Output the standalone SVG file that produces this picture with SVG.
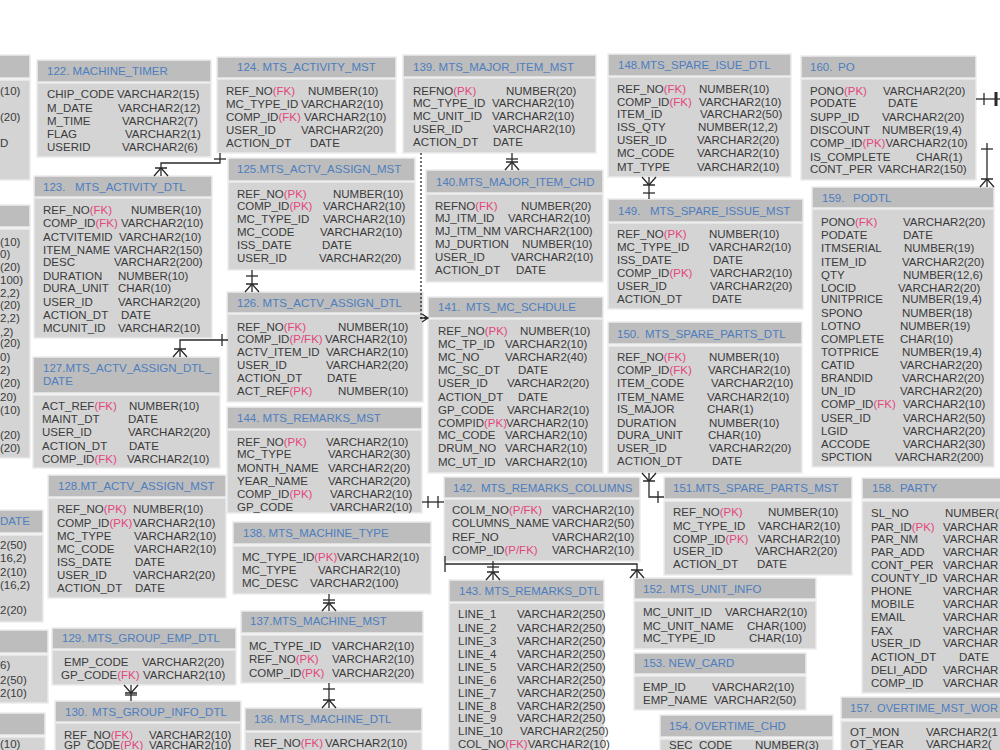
<svg xmlns="http://www.w3.org/2000/svg" width="1000" height="750" viewBox="0 0 1000 750">
<style>
text{font-family:"Liberation Sans",Arial,sans-serif;font-size:11.5px;fill:#3b3b3b}
.ti{fill:#4d7ebf}
.k{fill:#e3467d}
.hd{fill:#bdbdbd;stroke:#ebebeb;stroke-width:1.5}
.bd{fill:#d4d4d4;stroke:#ebebeb;stroke-width:1.5}
.cn{fill:none;stroke:#2a2a2a;stroke-width:1.3}
.dt{fill:none;stroke:#2a2a2a;stroke-width:1.3;stroke-dasharray:2 2}
</style>
<defs>
<marker id="one" viewBox="-12 -8 14 16" refX="0" refY="0" markerWidth="14" markerHeight="16" markerUnits="userSpaceOnUse" orient="auto-start-reverse" overflow="visible">
<path d="M-6,-6V6" stroke="#2a2a2a" stroke-width="1.3" fill="none"/>
</marker>
<marker id="many" viewBox="-12 -8 14 16" refX="0" refY="0" markerWidth="14" markerHeight="16" markerUnits="userSpaceOnUse" orient="auto-start-reverse" overflow="visible">
<path d="M-8,0L0,-7M-8,0L0,7M-8,-6V6" stroke="#2a2a2a" stroke-width="1.3" fill="none"/>
</marker>
</defs>
<rect width="1000" height="750" fill="#ffffff"/>

<g id="partialA">
<rect class="hd" x="-5" y="55" width="35" height="23"/>
<rect class="bd" x="-5" y="80" width="35" height="100"/>
<text x="0" y="95">(10)</text>
<text x="0" y="121">(20)</text>
<text x="0" y="147">D</text>
</g>
<g id="partialB">
<rect class="hd" x="-5" y="205" width="35" height="22"/>
<rect class="bd" x="-5" y="229" width="35" height="229"/>
<text x="0" y="246">(10)</text>
<text x="0" y="258">0)</text>
<text x="0" y="271">(20)</text>
<text x="0" y="284">100)</text>
<text x="0" y="297">2,2)</text>
<text x="0" y="309">(20)</text>
<text x="0" y="322">2,2)</text>
<text x="0" y="336">,2)</text>
<text x="0" y="347">(20)</text>
<text x="0" y="361">0)</text>
<text x="0" y="374">2)</text>
<text x="0" y="387">(20)</text>
<text x="0" y="401">20)</text>
<text x="0" y="414">(10)</text>
<text x="0" y="439">(20)</text>
<text x="0" y="452">(20)</text>
</g>
<g id="partialC">
<rect class="hd" x="-5" y="510" width="48" height="23"/>
<text class="ti" x="0" y="525">DATE</text>
<rect class="bd" x="-5" y="535" width="48" height="87"/>
<text x="0" y="549">2(50)</text>
<text x="0" y="562">16,2)</text>
<text x="0" y="576">2(10)</text>
<text x="0" y="589">(16,2)</text>
<text x="0" y="614">2(20)</text>
</g>
<g id="partialD">
<rect class="hd" x="-5" y="630" width="53" height="23"/>
<rect class="bd" x="-5" y="655" width="53" height="48"/>
<text x="0" y="669">6)</text>
<text x="0" y="684">2(50)</text>
<text x="0" y="697">2(10)</text>
</g>
<g id="partialE">
<rect class="hd" x="-5" y="713" width="50" height="22"/>
<rect class="bd" x="-5" y="737" width="50" height="20"/>
<text x="0" y="748">(10)</text>
</g>

<g id="t122">
<rect class="hd" x="37" y="60" width="174" height="22"/>
<text class="ti" x="47" y="75">122. MACHINE_TIMER</text>
<rect class="bd" x="37" y="83" width="174" height="74"/>
<text x="47" y="98">CHIP_CODE</text><text x="117" y="98">VARCHAR2(15)</text>
<text x="47" y="112">M_DATE</text><text x="118" y="112">VARCHAR2(12)</text>
<text x="47" y="125">M_TIME</text><text x="122" y="125">VARCHAR2(7)</text>
<text x="47" y="138">FLAG</text><text x="125" y="138">VARCHAR2(1)</text>
<text x="47" y="151">USERID</text><text x="122" y="151">VARCHAR2(6)</text>
</g>

<g id="t124">
<rect class="hd" x="217" y="57" width="179" height="21"/>
<text class="ti" x="237" y="71">124. MTS_ACTIVITY_MST</text>
<rect class="bd" x="217" y="79" width="179" height="74"/>
<text x="226" y="95">REF_NO<tspan class="k">(FK)</tspan></text><text x="308" y="95">NUMBER(10)</text>
<text x="226" y="108">MC_TYPE_ID</text><text x="301" y="108">VARCHAR2(10)</text>
<text x="226" y="121">COMP_ID<tspan class="k">(FK)</tspan></text><text x="304" y="121">VARCHAR2(10)</text>
<text x="226" y="134">USER_ID</text><text x="301" y="134">VARCHAR2(20)</text>
<text x="226" y="147">ACTION_DT</text><text x="310" y="147">DATE</text>
</g>

<g id="t125">
<rect class="hd" x="228" y="158" width="187" height="23"/>
<text class="ti" x="237" y="173">125.MTS_ACTV_ASSIGN_MST</text>
<rect class="bd" x="228" y="182" width="187" height="88"/>
<text x="237" y="198">REF_NO<tspan class="k">(PK)</tspan></text><text x="333" y="198">NUMBER(10)</text>
<text x="237" y="210">COMP_ID<tspan class="k">(PK)</tspan></text><text x="323" y="210">VARCHAR2(10)</text>
<text x="237" y="223">MC_TYPE_ID</text><text x="323" y="223">VARCHAR2(10)</text>
<text x="237" y="236">MC_CODE</text><text x="320" y="236">VARCHAR2(10)</text>
<text x="237" y="249">ISS_DATE</text><text x="322" y="249">DATE</text>
<text x="237" y="262">USER_ID</text><text x="319" y="262">VARCHAR2(20)</text>
</g>

<g id="t123">
<rect class="hd" x="34" y="176" width="178" height="21"/>
<text class="ti" x="43" y="191">123.<tspan x="75">MTS_ACTIVITY_DTL</tspan></text>
<rect class="bd" x="34" y="198" width="178" height="140"/>
<text x="43" y="214">REF_NO<tspan class="k">(FK)</tspan></text><text x="131" y="214">NUMBER(10)</text>
<text x="43" y="227">COMP_ID<tspan class="k">(FK)</tspan></text><text x="121" y="227">VARCHAR2(10)</text>
<text x="43" y="241">ACTVITEMID</text><text x="119" y="241">VARCHAR2(10)</text>
<text x="43" y="254">ITEM_NAME</text><text x="114" y="254">VARCHAR2(150)</text>
<text x="43" y="266">DESC</text><text x="114" y="266">VARCHAR2(200)</text>
<text x="43" y="280">DURATION</text><text x="118" y="280">NUMBER(10)</text>
<text x="43" y="292">DURA_UNIT</text><text x="118" y="292">CHAR(10)</text>
<text x="43" y="306">USER_ID</text><text x="118" y="306">VARCHAR2(20)</text>
<text x="43" y="319">ACTION_DT</text><text x="121" y="319">DATE</text>
<text x="43" y="332">MCUNIT_ID</text><text x="118" y="332">VARCHAR2(10)</text>
</g>

<g id="t127">
<rect class="hd" x="33" y="357" width="187" height="36"/>
<text class="ti" x="43" y="372">127.MTS_ACTV_ASSIGN_DTL_</text>
<text class="ti" x="43" y="385">DATE</text>
<rect class="bd" x="33" y="395" width="187" height="73"/>
<text x="42" y="410">ACT_REF<tspan class="k">(FK)</tspan></text><text x="129" y="410">NUMBER(10)</text>
<text x="42" y="423">MAINT_DT</text><text x="128" y="423">DATE</text>
<text x="42" y="436">USER_ID</text><text x="128" y="436">VARCHAR2(20)</text>
<text x="42" y="450">ACTION_DT</text><text x="129" y="450">DATE</text>
<text x="42" y="463">COMP_ID<tspan class="k">(FK)</tspan></text><text x="127" y="463">VARCHAR2(10)</text>
</g>

<g id="t128">
<rect class="hd" x="48" y="475" width="178" height="22"/>
<text class="ti" x="58" y="490">128.MT_ACTV_ASSIGN_MST</text>
<rect class="bd" x="48" y="498" width="178" height="100"/>
<text x="57" y="513">REF_NO<tspan class="k">(PK)</tspan></text><text x="133" y="513">NUMBER(10)</text>
<text x="57" y="527">COMP_ID<tspan class="k">(PK)</tspan></text><text x="133" y="527">VARCHAR2(10)</text>
<text x="57" y="540">MC_TYPE</text><text x="134" y="540">VARCHAR2(10)</text>
<text x="57" y="553">MC_CODE</text><text x="134" y="553">VARCHAR2(10)</text>
<text x="57" y="566">ISS_DATE</text><text x="135" y="566">DATE</text>
<text x="57" y="579">USER_ID</text><text x="133" y="579">VARCHAR2(20)</text>
<text x="57" y="592">ACTION_DT</text><text x="135" y="592">DATE</text>
</g>

<g id="t129">
<rect class="hd" x="52" y="628" width="184" height="21"/>
<text class="ti" x="62" y="642">129. MTS_GROUP_EMP_DTL</text>
<rect class="bd" x="52" y="650" width="184" height="35"/>
<text x="64" y="666">EMP_CODE</text><text x="142" y="666">VARCHAR2(20)</text>
<text x="61" y="679">GP_CODE<tspan class="k">(FK)</tspan></text><text x="143" y="679">VARCHAR2(10)</text>
</g>

<g id="t130">
<rect class="hd" x="55" y="701" width="186" height="21"/>
<text class="ti" x="65" y="716">130.<tspan x="92">MTS_GROUP_INFO_DTL</tspan></text>
<rect class="bd" x="55" y="723" width="186" height="40"/>
<text x="64" y="739">REF_NO<tspan class="k">(FK)</tspan></text><text x="149" y="739">VARCHAR2(10)</text>
<text x="64" y="749">GP_CODE<tspan class="k">(PK)</tspan></text><text x="149" y="749">VARCHAR2(10)</text>
</g>

<g id="t126">
<rect class="hd" x="227" y="292" width="196" height="21"/>
<text class="ti" x="237" y="307">126. MTS_ACTV_ASSIGN_DTL</text>
<rect class="bd" x="227" y="314" width="196" height="88"/>
<text x="237" y="331">REF_NO<tspan class="k">(FK)</tspan></text><text x="338" y="331">NUMBER(10)</text>
<text x="237" y="343">COMP_ID<tspan class="k">(P/FK)</tspan></text><text x="325" y="343">VARCHAR2(10)</text>
<text x="237" y="356">ACTV_ITEM_ID</text><text x="326" y="356">VARCHAR2(10)</text>
<text x="237" y="369">USER_ID</text><text x="326" y="369">VARCHAR2(20)</text>
<text x="237" y="382">ACTION_DT</text><text x="327" y="382">DATE</text>
<text x="237" y="395">ACT_REF<tspan class="k">(PK)</tspan></text><text x="338" y="395">NUMBER(10)</text>
</g>

<g id="t144">
<rect class="hd" x="227" y="407" width="195" height="22"/>
<text class="ti" x="237" y="422">144. MTS_REMARKS_MST</text>
<rect class="bd" x="227" y="430" width="195" height="83"/>
<text x="237" y="446">REF_NO<tspan class="k">(PK)</tspan></text><text x="326" y="446">VARCHAR2(10)</text>
<text x="237" y="458">MC_TYPE</text><text x="328" y="458">VARCHAR2(30)</text>
<text x="237" y="472">MONTH_NAME</text><text x="328" y="472">VARCHAR2(20)</text>
<text x="237" y="485">YEAR_NAME</text><text x="328" y="485">VARCHAR2(20)</text>
<text x="237" y="498">COMP_ID<tspan class="k">(PK)</tspan></text><text x="330" y="498">VARCHAR2(10)</text>
<text x="237" y="511">GP_CODE</text><text x="330" y="511">VARCHAR2(10)</text>
</g>

<g id="t138">
<rect class="hd" x="233" y="522" width="198" height="22"/>
<text class="ti" x="243" y="537">138. MTS_MACHINE_TYPE</text>
<rect class="bd" x="233" y="546" width="198" height="48"/>
<text x="242" y="561">MC_TYPE_ID<tspan class="k">(PK)</tspan></text><text x="337" y="561">VARCHAR2(10)</text>
<text x="242" y="574">MC_TYPE</text><text x="318" y="574">VARCHAR2(10)</text>
<text x="242" y="587">MC_DESC</text><text x="310" y="587">VARCHAR2(100)</text>
</g>

<g id="t137">
<rect class="hd" x="241" y="611" width="182" height="22"/>
<text class="ti" x="250" y="625">137.MTS_MACHINE_MST</text>
<rect class="bd" x="241" y="635" width="182" height="48"/>
<text x="249" y="650">MC_TYPE_ID</text><text x="332" y="650">VARCHAR2(10)</text>
<text x="249" y="663">REF_NO<tspan class="k">(PK)</tspan></text><text x="332" y="663">VARCHAR2(10)</text>
<text x="249" y="677">COMP_ID<tspan class="k">(PK)</tspan></text><text x="332" y="677">VARCHAR2(20)</text>
</g>

<g id="t136">
<rect class="hd" x="245" y="708" width="177" height="23"/>
<text class="ti" x="254" y="723">136. MTS_MACHINE_DTL</text>
<rect class="bd" x="245" y="732" width="177" height="30"/>
<text x="254" y="747">REF_NO<tspan class="k">(FK)</tspan></text><text x="325" y="747">VARCHAR2(10)</text>
</g>

<g id="t139">
<rect class="hd" x="403" y="55" width="193" height="22"/>
<text class="ti" x="413" y="71">139. MTS_MAJOR_ITEM_MST</text>
<rect class="bd" x="403" y="78" width="193" height="75"/>
<text x="413" y="95">REFNO<tspan class="k">(PK)</tspan></text><text x="506" y="95">NUMBER(20)</text>
<text x="413" y="107">MC_TYPE_ID</text><text x="492" y="107">VARCHAR2(10)</text>
<text x="413" y="120">MC_UNIT_ID</text><text x="492" y="120">VARCHAR2(10)</text>
<text x="413" y="133">USER_ID</text><text x="493" y="133">VARCHAR2(10)</text>
<text x="413" y="146">ACTION_DT</text><text x="493" y="146">DATE</text>
</g>

<g id="t140">
<rect class="hd" x="426" y="170" width="177" height="23"/>
<text class="ti" x="436" y="186">140.MTS_MAJOR_ITEM_CHD</text>
<rect class="bd" x="426" y="194" width="177" height="88"/>
<text x="435" y="210">REFNO<tspan class="k">(FK)</tspan></text><text x="521" y="210">NUMBER(20)</text>
<text x="435" y="222">MJ_ITM_ID</text><text x="508" y="222">VARCHAR2(10)</text>
<text x="435" y="235">MJ_ITM_NM</text><text x="504" y="235">VARCHAR2(100)</text>
<text x="435" y="248">MJ_DURTION</text><text x="522" y="248">NUMBER(10)</text>
<text x="435" y="261">USER_ID</text><text x="511" y="261">VARCHAR2(10)</text>
<text x="435" y="274">ACTION_DT</text><text x="516" y="274">DATE</text>
</g>

<g id="t141">
<rect class="hd" x="428" y="297" width="175" height="21"/>
<text class="ti" x="438" y="311">141.<tspan x="466">MTS_MC_SCHDULE</tspan></text>
<rect class="bd" x="428" y="319" width="175" height="154"/>
<text x="438" y="335">REF_NO<tspan class="k">(PK)</tspan></text><text x="520" y="335">NUMBER(10)</text>
<text x="438" y="348">MC_TP_ID</text><text x="505" y="348">VARCHAR2(10)</text>
<text x="438" y="361">MC_NO</text><text x="505" y="361">VARCHAR2(40)</text>
<text x="438" y="374">MC_SC_DT</text><text x="518" y="374">DATE</text>
<text x="438" y="387">USER_ID</text><text x="507" y="387">VARCHAR2(20)</text>
<text x="438" y="401">ACTION_DT</text><text x="518" y="401">DATE</text>
<text x="438" y="414">GP_CODE</text><text x="507" y="414">VARCHAR2(10)</text>
<text x="438" y="427">COMPID<tspan class="k">(PK)</tspan></text><text x="506" y="427">VARCHAR2(10)</text>
<text x="438" y="439">MC_CODE</text><text x="505" y="439">VARCHAR2(10)</text>
<text x="438" y="452">DRUM_NO</text><text x="505" y="452">VARCHAR2(10)</text>
<text x="438" y="466">MC_UT_ID</text><text x="505" y="466">VARCHAR2(10)</text>
</g>

<g id="t142">
<rect class="hd" x="444" y="477" width="196" height="21"/>
<text class="ti" x="453" y="492">142.<tspan x="481">MTS_REMARKS_COLUMNS</tspan></text>
<rect class="bd" x="444" y="499" width="196" height="62"/>
<text x="452" y="514">COLM_NO<tspan class="k">(P/FK)</tspan></text><text x="552" y="514">VARCHAR2(10)</text>
<text x="452" y="527">COLUMNS_NAME</text><text x="552" y="527">VARCHAR2(50)</text>
<text x="452" y="541">REF_NO</text><text x="552" y="541">VARCHAR2(10)</text>
<text x="452" y="554">COMP_ID<tspan class="k">(P/FK)</tspan></text><text x="552" y="554">VARCHAR2(10)</text>
</g>

<g id="t143">
<rect class="hd" x="449" y="580" width="155" height="22"/>
<text class="ti" x="459" y="595">143. MTS_REMARKS_DTL</text>
<rect class="bd" x="449" y="603" width="155" height="150"/>
<text x="458" y="618">LINE_1</text><text x="517" y="618">VARCHAR2(250)</text>
<text x="458" y="632">LINE_2</text><text x="517" y="632">VARCHAR2(250)</text>
<text x="458" y="645">LINE_3</text><text x="517" y="645">VARCHAR2(250)</text>
<text x="458" y="658">LINE_4</text><text x="517" y="658">VARCHAR2(250)</text>
<text x="458" y="671">LINE_5</text><text x="517" y="671">VARCHAR2(250)</text>
<text x="458" y="684">LINE_6</text><text x="517" y="684">VARCHAR2(250)</text>
<text x="458" y="697">LINE_7</text><text x="517" y="697">VARCHAR2(250)</text>
<text x="458" y="710">LINE_8</text><text x="517" y="710">VARCHAR2(250)</text>
<text x="458" y="722">LINE_9</text><text x="517" y="722">VARCHAR2(250)</text>
<text x="458" y="735">LINE_10</text><text x="520" y="735">VARCHAR2(250)</text>
<text x="458" y="748">COL_NO<tspan class="k">(FK)</tspan>VARCHAR2(10)</text>
</g>

<g id="t148">
<rect class="hd" x="608" y="54" width="183" height="22"/>
<text class="ti" x="618" y="69">148.MTS_SPARE_ISUE_DTL</text>
<rect class="bd" x="608" y="77" width="183" height="100"/>
<text x="617" y="93">REF_NO<tspan class="k">(FK)</tspan></text><text x="699" y="93">NUMBER(10)</text>
<text x="617" y="106">COMP_ID<tspan class="k">(FK)</tspan></text><text x="699" y="106">VARCHAR2(10)</text>
<text x="617" y="118">ITEM_ID</text><text x="700" y="118">VARCHAR2(50)</text>
<text x="617" y="131">ISS_QTY</text><text x="698" y="131">NUMBER(12,2)</text>
<text x="617" y="144">USER_ID</text><text x="697" y="144">VARCHAR2(20)</text>
<text x="617" y="157">MC_CODE</text><text x="697" y="157">VARCHAR2(10)</text>
<text x="617" y="171">MT_TYPE</text><text x="697" y="171">VARCHAR2(10)</text>
</g>

<g id="t149">
<rect class="hd" x="608" y="199" width="195" height="23"/>
<text class="ti" x="618" y="215">149.<tspan x="650">MTS_SPARE_ISSUE_MST</tspan></text>
<rect class="bd" x="608" y="223" width="195" height="86"/>
<text x="617" y="238">REF_NO<tspan class="k">(PK)</tspan></text><text x="709" y="238">NUMBER(10)</text>
<text x="617" y="251">MC_TYPE_ID</text><text x="709" y="251">VARCHAR2(10)</text>
<text x="617" y="264">ISS_DATE</text><text x="713" y="264">DATE</text>
<text x="617" y="277">COMP_ID<tspan class="k">(PK)</tspan></text><text x="710" y="277">VARCHAR2(10)</text>
<text x="617" y="290">USER_ID</text><text x="710" y="290">VARCHAR2(20)</text>
<text x="617" y="303">ACTION_DT</text><text x="712" y="303">DATE</text>
</g>

<g id="t150">
<rect class="hd" x="608" y="322" width="194" height="22"/>
<text class="ti" x="617" y="338">150.<tspan x="645">MTS_SPARE_PARTS_DTL</tspan></text>
<rect class="bd" x="608" y="346" width="194" height="127"/>
<text x="617" y="361">REF_NO<tspan class="k">(FK)</tspan></text><text x="709" y="361">NUMBER(10)</text>
<text x="617" y="374">COMP_ID<tspan class="k">(FK)</tspan></text><text x="708" y="374">VARCHAR2(10)</text>
<text x="617" y="387">ITEM_CODE</text><text x="711" y="387">VARCHAR2(10)</text>
<text x="617" y="401">ITEM_NAME</text><text x="707" y="401">VARCHAR2(10)</text>
<text x="617" y="413">IS_MAJOR</text><text x="707" y="413">CHAR(1)</text>
<text x="617" y="427">DURATION</text><text x="709" y="427">NUMBER(10)</text>
<text x="617" y="439">DURA_UNIT</text><text x="708" y="439">CHAR(10)</text>
<text x="617" y="452">USER_ID</text><text x="709" y="452">VARCHAR2(20)</text>
<text x="617" y="465">ACTION_DT</text><text x="712" y="465">DATE</text>
</g>

<g id="t151">
<rect class="hd" x="664" y="477" width="188" height="22"/>
<text class="ti" x="673" y="492">151.MTS_SPARE_PARTS_MST</text>
<rect class="bd" x="664" y="501" width="188" height="74"/>
<text x="673" y="516">REF_NO<tspan class="k">(PK)</tspan></text><text x="768" y="516">NUMBER(10)</text>
<text x="673" y="530">MC_TYPE_ID</text><text x="758" y="530">VARCHAR2(10)</text>
<text x="673" y="543">COMP_ID<tspan class="k">(PK)</tspan></text><text x="758" y="543">VARCHAR2(10)</text>
<text x="673" y="555">USER_ID</text><text x="755" y="555">VARCHAR2(20)</text>
<text x="673" y="568">ACTION_DT</text><text x="757" y="568">DATE</text>
</g>

<g id="t152">
<rect class="hd" x="634" y="578" width="182" height="21"/>
<text class="ti" x="643" y="593">152.<tspan x="670">MTS_UNIT_INFO</tspan></text>
<rect class="bd" x="634" y="601" width="182" height="48"/>
<text x="643" y="616">MC_UNIT_ID</text><text x="725" y="616">VARCHAR2(10)</text>
<text x="643" y="630">MC_UNIT_NAME</text><text x="747" y="630">CHAR(100)</text>
<text x="643" y="642">MC_TYPE_ID</text><text x="749" y="642">CHAR(10)</text>
</g>

<g id="t153">
<rect class="hd" x="634" y="653" width="172" height="21"/>
<text class="ti" x="643" y="667">153. NEW_CARD</text>
<rect class="bd" x="634" y="676" width="172" height="34"/>
<text x="643" y="691">EMP_ID</text><text x="712" y="691">VARCHAR2(10)</text>
<text x="643" y="704">EMP_NAME</text><text x="714" y="704">VARCHAR2(50)</text>
</g>

<g id="t154">
<rect class="hd" x="660" y="715" width="173" height="22"/>
<text class="ti" x="669" y="730">154. OVERTIME_CHD</text>
<rect class="bd" x="660" y="739" width="173" height="20"/>
<text x="669" y="749">SEC_CODE</text><text x="755" y="749">NUMBER(3)</text>
</g>

<g id="t160">
<rect class="hd" x="801" y="56" width="175" height="22"/>
<text class="ti" x="810" y="71">160.<tspan x="838">PO</tspan></text>
<rect class="bd" x="801" y="79" width="175" height="101"/>
<text x="810" y="95">PONO<tspan class="k">(PK)</tspan></text><text x="883" y="95">VARCHAR2(20)</text>
<text x="810" y="107">PODATE</text><text x="888" y="107">DATE</text>
<text x="810" y="121">SUPP_ID</text><text x="882" y="121">VARCHAR2(20)</text>
<text x="810" y="134">DISCOUNT</text><text x="882" y="134">NUMBER(19,4)</text>
<text x="810" y="147">COMP_ID<tspan class="k">(PK)</tspan>VARCHAR2(10)</text>
<text x="810" y="161">IS_COMPLETE</text><text x="916" y="161">CHAR(1)</text>
<text x="810" y="173">CONT_PER</text><text x="878" y="173">VARCHAR2(150)</text>
</g>

<g id="t159">
<rect class="hd" x="812" y="187" width="182" height="21"/>
<text class="ti" x="822" y="202">159.<tspan x="853">PODTL</tspan></text>
<rect class="bd" x="812" y="209" width="182" height="258"/>
<text x="821" y="226">PONO<tspan class="k">(FK)</tspan></text><text x="903" y="226">VARCHAR2(20)</text>
<text x="821" y="239">PODATE</text><text x="903" y="239">DATE</text>
<text x="821" y="252">ITMSERIAL</text><text x="904" y="252">NUMBER(19)</text>
<text x="821" y="266">ITEM_ID</text><text x="902" y="266">VARCHAR2(20)</text>
<text x="821" y="279">QTY</text><text x="903" y="279">NUMBER(12,6)</text>
<text x="821" y="292">LOCID</text><text x="898" y="292">VARCHAR2(20)</text>
<text x="821" y="303">UNITPRICE</text><text x="902" y="303">NUMBER(19,4)</text>
<text x="821" y="317">SPONO</text><text x="902" y="317">NUMBER(18)</text>
<text x="821" y="330">LOTNO</text><text x="900" y="330">NUMBER(19)</text>
<text x="821" y="343">COMPLETE</text><text x="900" y="343">CHAR(10)</text>
<text x="821" y="356">TOTPRICE</text><text x="902" y="356">NUMBER(19,4)</text>
<text x="821" y="369">CATID</text><text x="900" y="369">VARCHAR2(20)</text>
<text x="821" y="382">BRANDID</text><text x="902" y="382">VARCHAR2(20)</text>
<text x="821" y="395">UN_ID</text><text x="900" y="395">VARCHAR2(20)</text>
<text x="821" y="408">COMP_ID<tspan class="k">(FK)</tspan></text><text x="903" y="408">VARCHAR2(10)</text>
<text x="821" y="422">USER_ID</text><text x="903" y="422">VARCHAR2(50)</text>
<text x="821" y="435">LGID</text><text x="903" y="435">VARCHAR2(20)</text>
<text x="821" y="448">ACCODE</text><text x="903" y="448">VARCHAR2(30)</text>
<text x="821" y="461">SPCTION</text><text x="895" y="461">VARCHAR2(200)</text>
</g>

<g id="t158">
<rect class="hd" x="862" y="478" width="145" height="21"/>
<text class="ti" x="872" y="492">158.<tspan x="900">PARTY</tspan></text>
<rect class="bd" x="862" y="501" width="145" height="192"/>
<text x="871" y="517">SL_NO</text><text x="945" y="517">NUMBER(</text>
<text x="871" y="531">PAR_ID<tspan class="k">(PK)</tspan></text><text x="943" y="531">VARCHAR</text>
<text x="871" y="543">PAR_NM</text><text x="943" y="543">VARCHAR</text>
<text x="871" y="556">PAR_ADD</text><text x="943" y="556">VARCHAR</text>
<text x="871" y="569">CONT_PER</text><text x="943" y="569">VARCHAR</text>
<text x="871" y="582">COUNTY_ID</text><text x="943" y="582">VARCHAR</text>
<text x="871" y="595">PHONE</text><text x="943" y="595">VARCHAR</text>
<text x="871" y="608">MOBILE</text><text x="943" y="608">VARCHAR</text>
<text x="871" y="621">EMAIL</text><text x="943" y="621">VARCHAR</text>
<text x="871" y="635">FAX</text><text x="943" y="635">VARCHAR</text>
<text x="871" y="647">USER_ID</text><text x="943" y="647">VARCHAR</text>
<text x="871" y="661">ACTION_DT</text><text x="959" y="661">DATE</text>
<text x="871" y="674">DELI_ADD</text><text x="943" y="674">VARCHAR</text>
<text x="871" y="687">COMP_ID</text><text x="943" y="687">VARCHAR</text>
</g>

<g id="t157">
<rect class="hd" x="841" y="697" width="165" height="22"/>
<text class="ti" x="850" y="712">157.<tspan x="877" textLength="121" lengthAdjust="spacingAndGlyphs">OVERTIME_MST_WOR</tspan></text>
<rect class="bd" x="841" y="721" width="165" height="40"/>
<text x="850" y="736">OT_MON</text><text x="926" y="736">VARCHAR2(1</text>
<text x="850" y="748">OT_YEAR</text><text x="926" y="748">VARCHAR2(</text>
</g>

<g id="connectors">
<path class="cn" d="M220,153V163H161V176" marker-start="url(#one)" marker-end="url(#many)"/>
<path class="cn" d="M228,340H180V357" marker-start="url(#one)" marker-end="url(#many)"/>
<path class="cn" d="M252,270V292" marker-start="url(#one)" marker-end="url(#many)"/>
<path class="cn" d="M512,153V170" marker-start="url(#one)" marker-end="url(#many)"/>
<path class="dt" d="M421,153V318H428"/>
<path class="cn" d="M422,314L428,318L422,322M428,318H420"/>
<path class="cn" d="M649,177V199" marker-start="url(#many)" marker-end="url(#one)"/>
<path class="cn" d="M649,473V497H664" marker-start="url(#many)" marker-end="url(#one)"/>
<path class="cn" d="M422,502H444" marker-start="url(#one)" marker-end="url(#one)"/>
<path class="cn" d="M493,561V580" marker-start="url(#one)" marker-end="url(#many)"/>
<path class="cn" d="M445,564H637V578" marker-end="url(#many)"/>
<path class="cn" d="M445,556V572"/>
<path class="cn" d="M329,594V611" marker-start="url(#one)" marker-end="url(#many)"/>
<path class="cn" d="M329,683V708" marker-start="url(#one)" marker-end="url(#many)"/>
<path class="cn" d="M131,685V701" marker-start="url(#many)" marker-end="url(#one)"/>
<path class="cn" d="M976,99H1000"/>
<path class="cn" d="M984,93V105"/>
<path d="M996,92V106" stroke="#2a2a2a" stroke-width="3" fill="none"/>
<path class="cn" d="M987,143V187" marker-start="url(#one)" marker-end="url(#many)"/>
</g>
</svg>
